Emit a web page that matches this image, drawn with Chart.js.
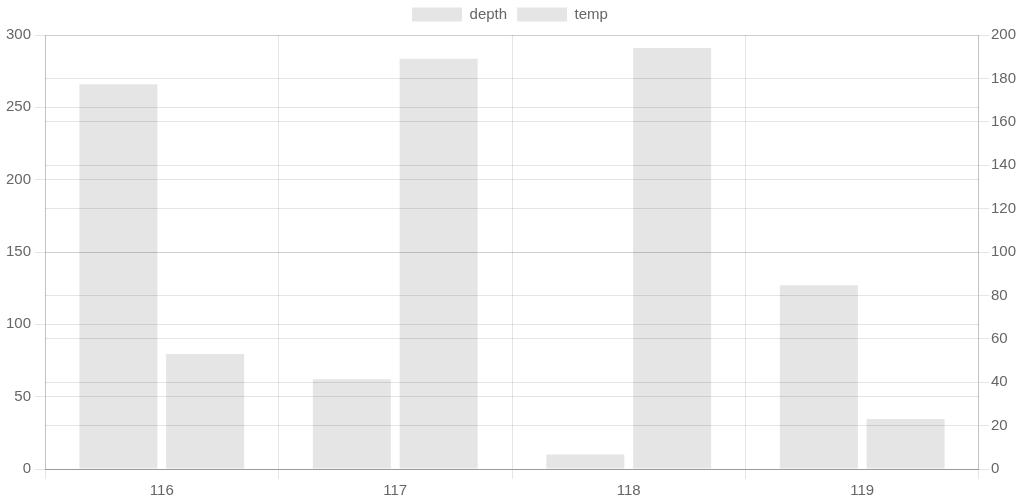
<!DOCTYPE html>
<html>
<head>
<meta charset="utf-8">
<script src="https://cdn.jsdelivr.net/npm/chart.js@4"></script>
<style>
  html, body { margin: 0; padding: 0; background: #fff; }
  #wrap { width: 1025px; height: 503px; }
</style>
</head>
<body>
<div id="wrap"><canvas id="c" width="1025" height="503"></canvas></div>
<script>
const categories = ['116', '117', '118', '119'];
const depthValues = [266, 62, 10, 127];
const tempValues = [53, 189, 194, 23];

Chart.defaults.font.family = 'Arial, "Liberation Sans", sans-serif';
Chart.defaults.font.size = 15;
Chart.defaults.color = '#666';

const legendSpacer = {
  id: 'legendSpacer',
  beforeInit(chart) {
    const origFit = chart.legend.fit;
    chart.legend.fit = function () {
      origFit.bind(chart.legend)();
      this.height += 3;
    };
  }
};

new Chart(document.getElementById('c'), {
  type: 'bar',
  data: {
    labels: categories,
    datasets: [
      { label: 'depth', data: depthValues, yAxisID: 'y', backgroundColor: 'rgba(0,0,0,0.1)', borderWidth: 0, categoryPercentage: 0.743, barPercentage: 0.9 },
      { label: 'temp', data: tempValues, yAxisID: 'y1', backgroundColor: 'rgba(0,0,0,0.1)', borderWidth: 0, categoryPercentage: 0.743, barPercentage: 0.9 }
    ]
  },
  plugins: [legendSpacer],
  options: {
    responsive: false,
    animation: false,
    layout: { padding: { left: 2, right: 7, top: -3, bottom: 0 } },
    plugins: {
      legend: { position: 'top', labels: { boxWidth: 50, boxHeight: 14, color: '#666', padding: 10 } },
      tooltip: { enabled: false }
    },
    scales: {
      x: {
        grid: { color: 'rgba(0,0,0,0.1)', offset: true, tickLength: 10 },
        border: { color: 'rgba(0,0,0,0.25)' },
        ticks: { color: '#666' }
      },
      y: {
        position: 'left',
        min: 0, max: 300,
        ticks: { stepSize: 50, color: '#666', padding: 4 },
        grid: { color: 'rgba(0,0,0,0.1)', tickLength: 10 },
        border: { color: 'rgba(0,0,0,0.15)' }
      },
      y1: {
        position: 'right',
        min: 0, max: 200,
        ticks: { stepSize: 20, color: '#666', padding: 2 },
        grid: { color: 'rgba(0,0,0,0.1)', tickLength: 10 },
        border: { color: 'rgba(0,0,0,0.15)' }
      }
    }
  }
});
</script>
</body>
</html>
